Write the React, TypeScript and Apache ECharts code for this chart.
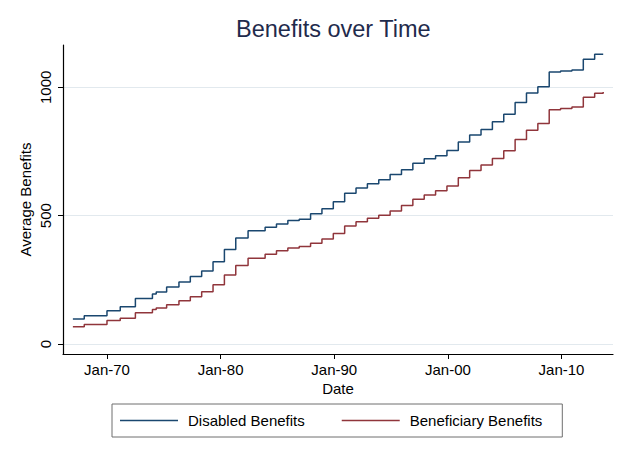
import React, { useEffect, useRef } from "react";
import * as echarts from "echarts";

// Step dates (month of each benefit change) shared by both series
const stepDates = [
  "1967-01", "1968-01", "1970-01", "1971-03", "1972-07", "1974-01", "1974-05",
  "1975-04", "1976-05", "1977-05", "1978-05", "1979-05", "1980-05", "1981-05",
  "1982-06", "1983-12", "1984-12", "1985-12", "1986-12", "1987-12", "1988-12",
  "1989-12", "1990-12", "1991-12", "1992-12", "1993-12", "1994-12", "1995-12",
  "1996-12", "1997-12", "1998-12", "1999-12", "2000-12", "2001-12", "2002-12",
  "2003-12", "2004-12", "2005-12", "2006-12", "2007-12", "2008-12", "2009-12",
  "2010-12", "2011-12", "2012-12", "2013-09",
];

const disabledBenefits = [
  97, 110, 130, 145, 177, 195, 203,
  222, 242, 263, 284, 320, 368, 413,
  441, 455, 468, 481, 486, 507, 527,
  554, 587, 608, 624, 640, 660, 679,
  704, 722, 733, 754, 787, 814, 836,
  866, 895, 941, 978, 1002, 1060, 1064,
  1068, 1109, 1129, 1131,
];

const beneficiaryBenefits = [
  67, 76, 92, 100, 122, 134, 140,
  153, 168, 184, 204, 231, 269, 306,
  334, 350, 363, 374, 380, 393, 409,
  431, 460, 476, 490, 502, 518, 540,
  564, 581, 597, 616, 648, 676, 697,
  723, 753, 797, 833, 859, 913, 918,
  923, 961, 977, 982,
];

const seriesNames = ["Disabled Benefits", "Beneficiary Benefits"];
const xTickYears = [1970, 1980, 1990, 2000, 2010];
const yTicks = [0, 500, 1000];

const FONT = "'Liberation Sans', Arial, Helvetica, sans-serif";

// "YYYY-MM" -> decimal year (start of month)
const toYear = (d: string) => {
  const [y, m] = d.split("-").map(Number);
  return y + (m - 1) / 12;
};

export default function App() {
  const ref = useRef<HTMLDivElement>(null);

  useEffect(() => {
    if (!ref.current) return;
    const chart = echarts.init(ref.current, null, { renderer: "svg" });
    const toData = (vals: number[]) =>
      stepDates.map((d, i) => [toYear(d), vals[i]]);

    chart.setOption({
      animation: false,
      backgroundColor: "#ffffff",
      textStyle: { fontFamily: FONT },
      title: {
        text: "Benefits over Time",
        left: 231,
        top: 12,
        textStyle: {
          fontFamily: FONT,
          fontSize: 23.5,
          fontWeight: "normal",
          color: "#1f2b4c",
        },
      },
      grid: { left: 63, right: 17, top: 45, bottom: 104, containLabel: false },
      legend: {
        data: seriesNames,
        left: 112,
        top: 404,
        orient: "horizontal",
        icon: "rect",
        itemWidth: 58,
        itemHeight: 1.4,
        itemGap: 37,
        padding: [9, 20, 9, 8],
        borderColor: "#6e6e6e",
        borderWidth: 1,
        textStyle: {
          fontFamily: FONT,
          fontSize: 15,
          color: "#000",
          padding: [0, 0, 0, 5],
        },
      },
      xAxis: {
        type: "value",
        min: 1966.13,
        max: 2014.53,
        name: "Date",
        nameLocation: "middle",
        nameGap: 27,
        nameMoveOverlap: false,
        nameTextStyle: { fontFamily: FONT, fontSize: 15, color: "#000" },
        axisLine: { show: true, onZero: false, lineStyle: { color: "#000", width: 1.2 } },
        axisTick: {
          show: true,
          customValues: xTickYears,
          length: 5,
          lineStyle: { color: "#000", width: 1 },
        },
        axisLabel: {
          customValues: xTickYears,
          margin: 8,
          fontFamily: FONT,
          fontSize: 15,
          color: "#000",
          formatter: (val: number) => "Jan-" + String(Math.round(val)).slice(2),
        },
        splitLine: { show: false },
      },
      yAxis: {
        type: "value",
        min: -39,
        max: 1165,
        name: "Average Benefits",
        nameLocation: "middle",
        nameGap: 30,
        nameMoveOverlap: false,
        nameTextStyle: { fontFamily: FONT, fontSize: 15, color: "#000" },
        axisLine: { show: true, onZero: false, lineStyle: { color: "#000", width: 1.2 } },
        axisTick: {
          show: true,
          customValues: yTicks,
          length: 5,
          lineStyle: { color: "#000", width: 1 },
        },
        axisLabel: {
          customValues: yTicks,
          rotate: 90,
          margin: 10,
          fontFamily: FONT,
          fontSize: 15,
          color: "#000",
          formatter: (val: number) => String(val),
        },
        splitLine: { show: true, lineStyle: { color: "#e2e9ee", width: 1.2 } },
      },
      series: [
        {
          name: seriesNames[0],
          type: "line",
          step: "end",
          symbol: "none",
          data: toData(disabledBenefits),
          lineStyle: { color: "#1a476f", width: 1.5 },
          itemStyle: { color: "#1a476f" },
        },
        {
          name: seriesNames[1],
          type: "line",
          step: "end",
          symbol: "none",
          data: toData(beneficiaryBenefits),
          lineStyle: { color: "#90353b", width: 1.5 },
          itemStyle: { color: "#90353b" },
        },
      ],
    });

    return () => chart.dispose();
  }, []);

  return (
    <div
      ref={ref}
      style={{ position: "absolute", left: 0, top: 0, width: 630, height: 458 }}
    />
  );
}
